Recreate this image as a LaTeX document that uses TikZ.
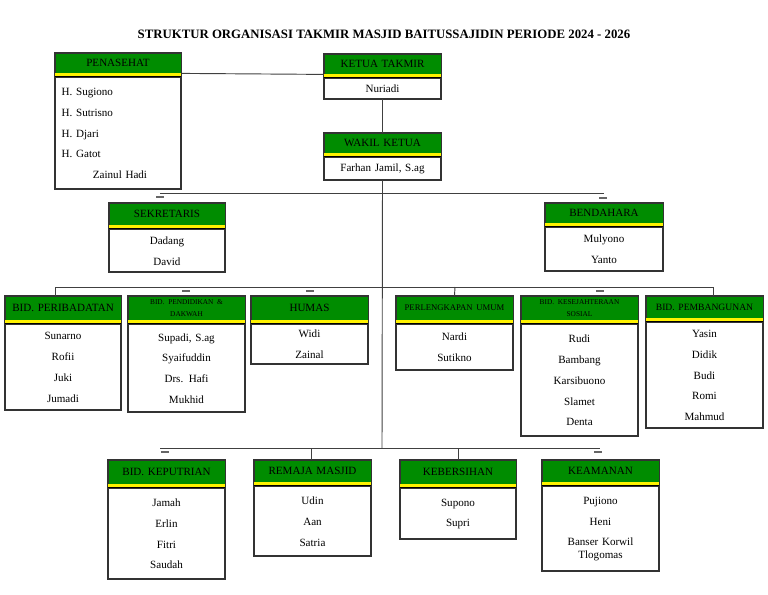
\documentclass[tikz,border=0pt]{standalone}
\usepackage{fontspec}
\setmainfont{Liberation Serif}
\usetikzlibrary{calc}
\definecolor{hg}{RGB}{0,140,0}
\tikzset{
 hdr/.style={fill=hg,draw=black!80,line width=0.6pt,inner sep=1pt,align=center,font=\fontsize{8.3}{8.5}\selectfont},
 bodyn/.style={draw=black!80,line width=0.8pt,inner sep=2pt,align=center,anchor=north,font=\fontsize{8.3}{15.6}\selectfont},
 conn/.style={draw=black!75,line width=0.7pt},
 tick/.style={draw=black!60,line width=0.8pt}
}
\newcommand\orgbox[8]{%
 \node[hdr,minimum width=#4*0.75pt,minimum height=#5*0.75pt,text width=#4*0.75pt-4pt] (#1h) at (#2+#4/2,#3+#5/2) {#7};
 \fill[yellow] (#1h.south west) rectangle ($(#1h.south east)+(0,3)$);
 \draw[line width=1pt] ($(#1h.south west)+(0,3.6)$) -- ($(#1h.south east)+(0,3.6)$);
 \node[bodyn,minimum width=#4*0.75pt,minimum height=#6*0.75pt,text width=#4*0.75pt-4pt] (#1) at ($(#1h.south)+(0,4)$) {#8};
 \draw[draw=black!80,line width=0.8pt] (#1h.north west) rectangle (#1.south east);
}
\begin{document}
\begin{tikzpicture}[x=0.75pt,y=-0.75pt]
\useasboundingbox (0,0) rectangle (768,594);
\node[font=\bfseries\fontsize{9.6}{11}\selectfont] (title) at (384,34) {STRUKTUR ORGANISASI TAKMIR MASJID BAITUSSAJIDIN PERIODE 2024 - 2026};
\orgbox{pen}{55}{53}{126}{20}{111}{PENASEHAT}{\raggedright\hspace*{3pt}H. Sugiono\\\hspace*{3pt}H. Sutrisno\\\hspace*{3pt}H. Djari\\\hspace*{3pt}H. Gatot\\\hspace*{3pt}Zainul Hadi}
\orgbox{ket}{324}{54}{117}{20}{20}{KETUA TAKMIR}{Nuriadi}
\orgbox{wak}{324}{133}{117}{20}{22}{WAKIL KETUA}{Farhan Jamil, S.ag}
\orgbox{sek}{109}{203}{116}{22}{42}{SEKRETARIS}{Dadang\\David}
\orgbox{ben}{545}{203}{118}{20}{43}{BENDAHARA}{Mulyono\\Yanto}
\orgbox{per}{5}{296}{116}{24}{85}{BID. PERIBADATAN}{Sunarno\\Rofii\\Juki\\Jumadi}
\orgbox{pdd}{128}{296}{117}{24}{87}{\fontsize{5.5}{6.5}\selectfont BID. PENDIDIKAN \&\\DAKWAH}{Supadi, S.ag\\Syaifuddin\\Drs. Hafi\\Mukhid}
\orgbox{hum}{251}{296}{117}{24}{39}{HUMAS}{Widi\\Zainal}
\orgbox{plk}{396}{296}{117}{24}{45}{\fontsize{6.5}{7}\selectfont PERLENGKAPAN UMUM}{Nardi\\Sutikno}
\orgbox{kes}{521}{296}{117}{24}{111}{\fontsize{5.5}{6.5}\selectfont BID. KESEJAHTERAAN\\SOSIAL}{Rudi\\Bambang\\Karsibuono\\Slamet\\Denta}
\orgbox{pem}{646}{296}{117}{22}{105}{\fontsize{7.2}{8}\selectfont BID. PEMBANGUNAN}{Yasin\\Didik\\Budi\\Romi\\Mahmud}
\orgbox{kep}{108}{460}{117}{24}{90}{BID. KEPUTRIAN}{Jamah\\Erlin\\Fitri\\Saudah}
\orgbox{rem}{254}{460}{117}{22}{69}{REMAJA MASJID}{Udin\\Aan\\Satria}
\orgbox{keb}{400}{460}{116}{24}{50}{KEBERSIHAN}{Supono\\Supri}
\orgbox{kea}{542}{460}{117}{22}{84}{KEAMANAN}{Pujiono\\Heni\\Banser Korwil\\[-6pt]Tlogomas}
% connectors
\coordinate (j1) at (382,193);
\coordinate (j2) at (382,287);
\coordinate (j3) at (382,448);
\draw[conn] (pen.north east |- penh.south) -- (keth.south west);
\draw[conn] (ket.south) -- (wakh.north);
\draw[conn] (wak.south) -- (j3);
\draw[conn] (160,193) -- (604,193);
\draw[conn] (55,287) -- (713,287);
\draw[conn] (55,287) -- (perh.north west -| 55,296);
\draw[conn] (455,287) -- (plkh.north);
\draw[conn] (713,287) -- (pemh.north west -| 713,296);
\draw[conn] (160,448) -- (600,448);
\draw[conn] (311,448) -- (remh.north west -| 311,460);
\draw[conn] (458,448) -- (kebh.north);
% small marks
\foreach \x/\y in {160/197,603/198,186/291,310/291,600/291,165/452,598/452}{\draw[tick] (\x-4,\y) -- (\x+4,\y);}
\end{tikzpicture}
\end{document}
